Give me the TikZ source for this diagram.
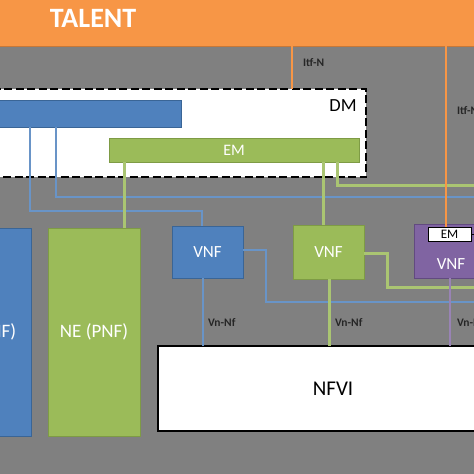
\documentclass[tikz,border=0pt]{standalone}
\usepackage{fontspec}
\setmainfont{Carlito}
\usepackage{xcolor}

\definecolor{tgray}{HTML}{808080}
\definecolor{torange}{HTML}{F79646}
\definecolor{tblue}{HTML}{4F81BD}
\definecolor{tbluedk}{HTML}{3A6596}
\definecolor{tgreen}{HTML}{9BBB59}
\definecolor{tgreendk}{HTML}{7E9B45}
\definecolor{tpurple}{HTML}{8064A2}
\definecolor{tpurpledk}{HTML}{624A80}

\begin{document}
\begin{tikzpicture}[x=1pt,y=-1pt,
    every node/.style={inner sep=0pt,outer sep=0pt},
    band/.style={fill=torange,draw=torange!80!black,line width=1pt},
    dmbox/.style={fill=white,draw=black,line width=2.4pt,dash pattern=on 8pt off 3.5pt},
    bluebox/.style={fill=tblue,draw=tbluedk,line width=1pt,text=white},
    greenbox/.style={fill=tgreen,draw=tgreendk,line width=1pt,text=white},
    purplebox/.style={fill=tpurple,draw=tpurpledk,line width=1pt,text=white},
    nfvibox/.style={fill=white,draw=black,line width=1.5pt},
    bline/.style={draw=tblue!85!white,line width=2pt},
    gline/.style={draw=tgreen!85!white,line width=3pt},
    pline/.style={draw=tpurple!80!white,line width=2pt},
    oline/.style={draw=torange,line width=2pt},
    ifl/.style={text=black!85,font=\bfseries\fontsize{11.5}{12}\selectfont}
  ]
  \useasboundingbox (0,0) rectangle (474,474);
  \clip (0,0) rectangle (474,474);
  \fill[tgray] (0,0) rectangle (474,474);

  % management layer
  \node (tb) [band,anchor=north west,minimum width=480,minimum height=47] at (-3,-1) {};
  \node (tl) [text=white,font=\bfseries\fontsize{28}{28}\selectfont] at (93,18) {TALENT};
  \node (dm) [dmbox,anchor=north west,minimum width=386,minimum height=88] at (-20,89) {};
  \node (dml) [font=\fontsize{18.5}{19}\selectfont] at (343,106) {DM};
  \node (dmb) [bluebox,anchor=north west,minimum width=201,minimum height=27] at (-20,100) {};
  \node (em) [greenbox,anchor=north west,minimum width=250,minimum height=24,
    font=\fontsize{16}{16}\selectfont] at (109,138) {EM};

  % network functions
  \node (pb) [bluebox,anchor=north west,minimum width=98,minimum height=208,
    font=\fontsize{19}{19}\selectfont] at (-67,228) {NE (PNF)};
  \node (ne) [greenbox,anchor=north west,minimum width=92,minimum height=208,
    font=\fontsize{19}{19}\selectfont] at (48,228) {NE (PNF)};
  \node (vb) [bluebox,anchor=north west,minimum width=71,minimum height=52,
    font=\fontsize{17}{17}\selectfont] at (172,226) {VNF};
  \node (vg) [greenbox,anchor=north west,minimum width=71,minimum height=54,
    font=\fontsize{17}{17}\selectfont] at (293,225) {VNF};
  \node (vp) [purplebox,anchor=north west,minimum width=80,minimum height=54] at (414,224) {};
  \node (vpl) [text=white,font=\fontsize{17}{17}\selectfont] at (451,264) {VNF};
  \node (vpe) [fill=white,draw=black,line width=1pt,anchor=north west,minimum width=43,
    minimum height=14,font=\fontsize{13}{13}\selectfont] at (428,227) {EM};
  \node (nfvi) [nfvibox,anchor=north west,minimum width=350,minimum height=85,
    font=\fontsize{21}{21}\selectfont] at (158,346) {NFVI};

  % free ends at the right border
  \coordinate (bre1) at (480,197);
  \coordinate (gre1) at (480,185);
  \coordinate (bre2) at (480,302);
  \coordinate (gre2) at (480,287);
  \coordinate (eme) at (480,234);

  % blue links
  \path (node cs:name=dmb,anchor=south west) +(50,0) coordinate (dmba) {};
  \path (node cs:name=dmb,anchor=south west) +(76,0) coordinate (dmbb) {};
  \path (node cs:name=vb,anchor=north west) +(30,0) coordinate (vbi) {};
  \draw[bline] (dmbb) |- (bre1);
  \draw[bline] (dmba) -- ++(0,84) -| (vbi);
  \path (node cs:name=vb,anchor=east) +(0,-2) coordinate (vbo) {};
  \draw[bline] (vbo) -- +(23,0) |- (bre2);

  % green links
  \path (node cs:name=em,anchor=south west) +(15,0) coordinate (emo1) {};
  \path (node cs:name=em,anchor=south west) +(214,0) coordinate (emo2) {};
  \path (node cs:name=em,anchor=south west) +(228,0) coordinate (emo3) {};
  \draw[gline] (emo3) |- (gre1);
  \path (node cs:name=vg,anchor=east) +(0,1) coordinate (vgo) {};
  \draw[gline] (vgo) -- +(23,0) |- (gre2);
  \draw[gline] (emo1) -- (emo1 |- ne.north);
  \draw[gline] (emo2) -- (emo2 |- vg.north);

  % down to NFVI
  \path (node cs:name=vb,anchor=south west) +(31,0) coordinate (vbd) {};
  \path (node cs:name=vg,anchor=south west) +(36,0) coordinate (vgd) {};
  \path (node cs:name=vp,anchor=south west) +(36,0) coordinate (vpd) {};
  \draw[bline] (vbd) -- (vbd |- nfvi.north);
  \draw[gline] (vgd) -- (vgd |- nfvi.north);
  \draw[pline] (vpd) -- (vpd |- nfvi.north);
  \draw[black,line width=1pt] (vpe.east) -- (eme);

  % Itf-N links
  \path (node cs:name=tb,anchor=south west) +(295,0) coordinate (tbo1) {};
  \path (node cs:name=tb,anchor=south west) +(449,0) coordinate (tbo2) {};
  \draw[oline] (tbo1) -- (tbo1 |- dm.north);
  \draw[oline] (tbo2) -- (tbo2 |- vpe.north);

  % reference point labels
  \node (itf1) [ifl,anchor=west] at (303,63) {Itf-N};
  \node (itf2) [ifl,anchor=west] at (457,111) {Itf-N};
  \node (vnf1) [ifl,anchor=west] at (208,322) {Vn-Nf};
  \node (vnf2) [ifl,anchor=west] at (335,322) {Vn-Nf};
  \node (vnf3) [ifl,anchor=west] at (457,322) {Vn-Nf};
\end{tikzpicture}
\end{document}
